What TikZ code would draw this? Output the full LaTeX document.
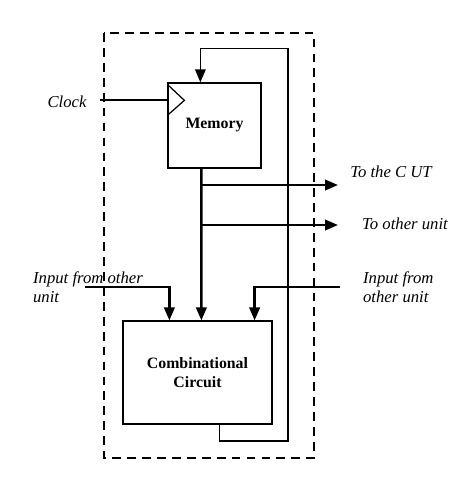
\documentclass[tikz,border=0pt]{standalone}
\usepackage{fontspec}
\setmainfont{Liberation Serif}
\usetikzlibrary{calc,arrows.meta,positioning}

\begin{document}
\begin{tikzpicture}[x=0.2mm,y=-0.2mm,
	blk/.style={draw,line width=0.7pt,rectangle,font=\fontsize{9}{11}\selectfont\bfseries,align=center},
	lbl/.style={font=\fontsize{9.5}{11}\selectfont\itshape,align=left,inner sep=1pt},
	sig/.style={line width=1.4pt,-{Triangle[length=2.6mm,width=2.1mm]}},
	fbk/.style={line width=1pt,-{Triangle[length=2.6mm,width=2.1mm]}}]
	%frame of the picture, same size as the reference
	\useasboundingbox (0,0) rectangle (474,481);
	\draw[line width=1.1pt,dash pattern=on 5pt off 3.5pt] (104,33) rectangle (314,458);
	%% the two blocks
	\node[blk,minimum width=18.6mm,minimum height=17mm] (mem) at (214.5,125.5) {Memory};
	\node[blk,minimum width=29.8mm,minimum height=20.6mm] (comb) at (197.5,372.5) {Combinational\\Circuit};
	%% labels
	\node[lbl] (clk) at (67,102) {Clock};
	\node[lbl] (cut) at (391,172) {To the C UT};
	\node[lbl] (oth) at (405,224) {To other unit};
	\node[lbl,anchor=west] (inl) at (31,287.5) {Input from other\\unit};
	\node[lbl,anchor=west] (inr) at (361,287.5) {Input from\\other unit};
	%% free ends of the wires
	\coordinate (ck) at (100,100);
	\coordinate (tapA) at (202,185); \coordinate (endA) at (338,185);
	\coordinate (tapB) at (202,225); \coordinate (endB) at (338,225);
	\coordinate (startL) at (85,287); \coordinate (startR) at (340,287);
	\coordinate (fb) at (288,441);
	%% clock input
	\draw[line width=0.6pt] (ck) -- (ck -| mem.west);
	\draw[line width=0.7pt] (mem.north west) ++(0,2) -- ++(17,16) -- ++(-17,15);
	%% memory output and branches
	\draw[sig] ($(mem.south west)+(34,0)$) -- ($(comb.north west)+(79,0)$);
	\draw[sig] (tapA) -- (endA);
	\draw[sig] (tapB) -- (endB);
	%% inputs from other units
	\draw[sig] (startL) -| ($(comb.north west)+(47,0)$);
	\draw[sig] (startR) -| ($(comb.north east)+(-18,0)$);
	%% feedback to memory
	\draw[fbk] ($(comb.south west)+(97,0)$) |- (fb) |- ($(mem.north west)+(33,-34)$) -- ($(mem.north west)+(33,0)$);
\end{tikzpicture}
\end{document}
